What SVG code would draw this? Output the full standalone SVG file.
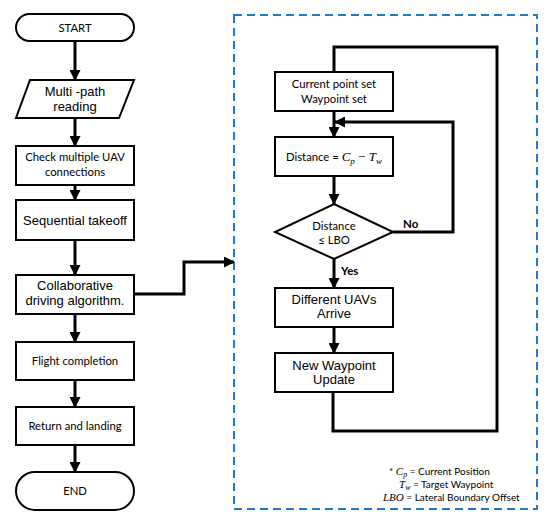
<svg xmlns="http://www.w3.org/2000/svg" width="550" height="522" viewBox="0 0 550 522">
<defs>
<marker id="ah" markerUnits="userSpaceOnUse" markerWidth="11" markerHeight="11" refX="10" refY="5.5" orient="auto">
<path d="M0,0 L11,5.5 L0,11 z" fill="#000"/>
</marker>
<style>
.box{fill:#fff;stroke:#000;stroke-width:2}
.cal{font-family:Lato,"Open Sans","Liberation Sans",sans-serif;font-size:11.3px;fill:#000;text-anchor:middle}
.ari{font-family:"Liberation Sans",Arial,sans-serif;font-size:13px;fill:#000;text-anchor:middle}
.bold{font-family:Lato,"Liberation Sans",sans-serif;font-size:11.5px;font-weight:bold;fill:#000}
.math{font-family:"Liberation Serif",serif;font-style:italic}
.leg{font-family:Lato,"Liberation Sans",sans-serif;font-size:10px;fill:#000}
.con{fill:none;stroke:#000;stroke-width:3}
.arr{fill:none;stroke:#000;stroke-width:3;marker-end:url(#ah)}
</style>
</defs>
<rect width="550" height="522" fill="#fff"/>
<rect id="frame" x="234" y="15" width="303" height="494" fill="none" stroke="#1a7ad4" stroke-width="2" stroke-dasharray="8,5"/>
<g id="connectors">
<line class="arr" x1="75" y1="41" x2="75" y2="80"/>
<line class="arr" x1="75" y1="118" x2="75" y2="146"/>
<line class="arr" x1="75" y1="185" x2="75" y2="200"/>
<line class="arr" x1="75" y1="240" x2="75" y2="275"/>
<line class="arr" x1="75" y1="314" x2="75" y2="342"/>
<line class="arr" x1="75" y1="380" x2="75" y2="407"/>
<line class="arr" x1="75" y1="445" x2="75" y2="472"/>
<polyline class="arr" points="134,294 184,294 184,262 234,262"/>
<line class="arr" x1="334" y1="111" x2="334" y2="137"/>
<line class="arr" x1="334" y1="176" x2="334" y2="204"/>
<polyline class="arr" points="393,232 453,232 453,122 335,122"/>
<line class="arr" x1="334" y1="259" x2="334" y2="288"/>
<line class="arr" x1="334" y1="327" x2="334" y2="353"/>
<polyline class="con" points="334,72 334,47 497,47 497,431 333,431 333,392"/>
<text class="bold" x="403" y="228">No</text>
<text class="bold" x="341" y="275">Yes</text>
</g>
<g id="start"><rect class="box" x="16" y="14" width="118" height="27" rx="13.5"/><text class="cal" x="75" y="32">START</text></g>
<g id="read"><polygon class="box" points="30,80 134,80 119,118 16,118"/><text class="ari" x="75" y="96">Multi -path</text><text class="ari" x="75" y="111">reading</text></g>
<g id="check"><rect class="box" x="16" y="146" width="118" height="39"/><text class="cal" x="75" y="161">Check multiple UAV</text><text class="cal" x="75" y="176">connections</text></g>
<g id="takeoff"><rect class="box" x="16" y="200" width="118" height="40"/><text class="ari" x="75" y="225">Sequential takeoff</text></g>
<g id="collab"><rect class="box" x="16" y="275" width="118" height="39"/><text class="ari" x="75" y="290">Collaborative</text><text class="ari" x="75" y="305">driving algorithm.</text></g>
<g id="flight"><rect class="box" x="16" y="342" width="118" height="38"/><text class="cal" x="75" y="365">Flight completion</text></g>
<g id="return"><rect class="box" x="16" y="407" width="118" height="38"/><text class="cal" x="75" y="430">Return and landing</text></g>
<g id="end"><rect class="box" x="16" y="472" width="118" height="38" rx="19"/><text class="cal" x="75" y="495">END</text></g>
<g id="current"><rect class="box" x="275" y="72" width="118" height="39"/><text class="cal" x="334" y="88">Current point set</text><text class="cal" x="334" y="103">Waypoint set</text></g>
<g id="distance"><rect class="box" x="275" y="137" width="118" height="39"/><text class="cal" x="334" y="161">Distance = <tspan class="math" font-size="13">C</tspan><tspan class="math" font-size="9" dy="3">p</tspan><tspan font-family="Liberation Serif" font-size="13" dy="-3"> − </tspan><tspan class="math" font-size="13">T</tspan><tspan class="math" font-size="9" dy="3">w</tspan></text></g>
<g id="decision"><polygon class="box" points="334,204 393,232 334,259 275,232"/><text class="cal" x="334" y="230">Distance</text><text class="cal" x="334" y="244">≤ LBO</text></g>
<g id="arrive"><rect class="box" x="275" y="288" width="118" height="39"/><text class="ari" x="334" y="304">Different UAVs</text><text class="ari" x="334" y="318">Arrive</text></g>
<g id="update"><rect class="box" x="275" y="353" width="118" height="39"/><text class="ari" x="334" y="370">New Waypoint</text><text class="ari" x="334" y="384">Update</text></g>
<g id="legend">
<text class="leg" x="389" y="475">* <tspan class="math" font-size="11">C</tspan><tspan class="math" font-size="8" dy="2">p</tspan><tspan dy="-2"> = Current Position</tspan></text>
<text class="leg" x="399" y="488"><tspan class="math" font-size="11">T</tspan><tspan class="math" font-size="8" dy="2">w</tspan><tspan dy="-2"> = Target Waypoint</tspan></text>
<text class="leg" x="383" y="501"><tspan class="math" font-size="11">LBO</tspan> = Lateral Boundary Offset</text>
</g>
</svg>
